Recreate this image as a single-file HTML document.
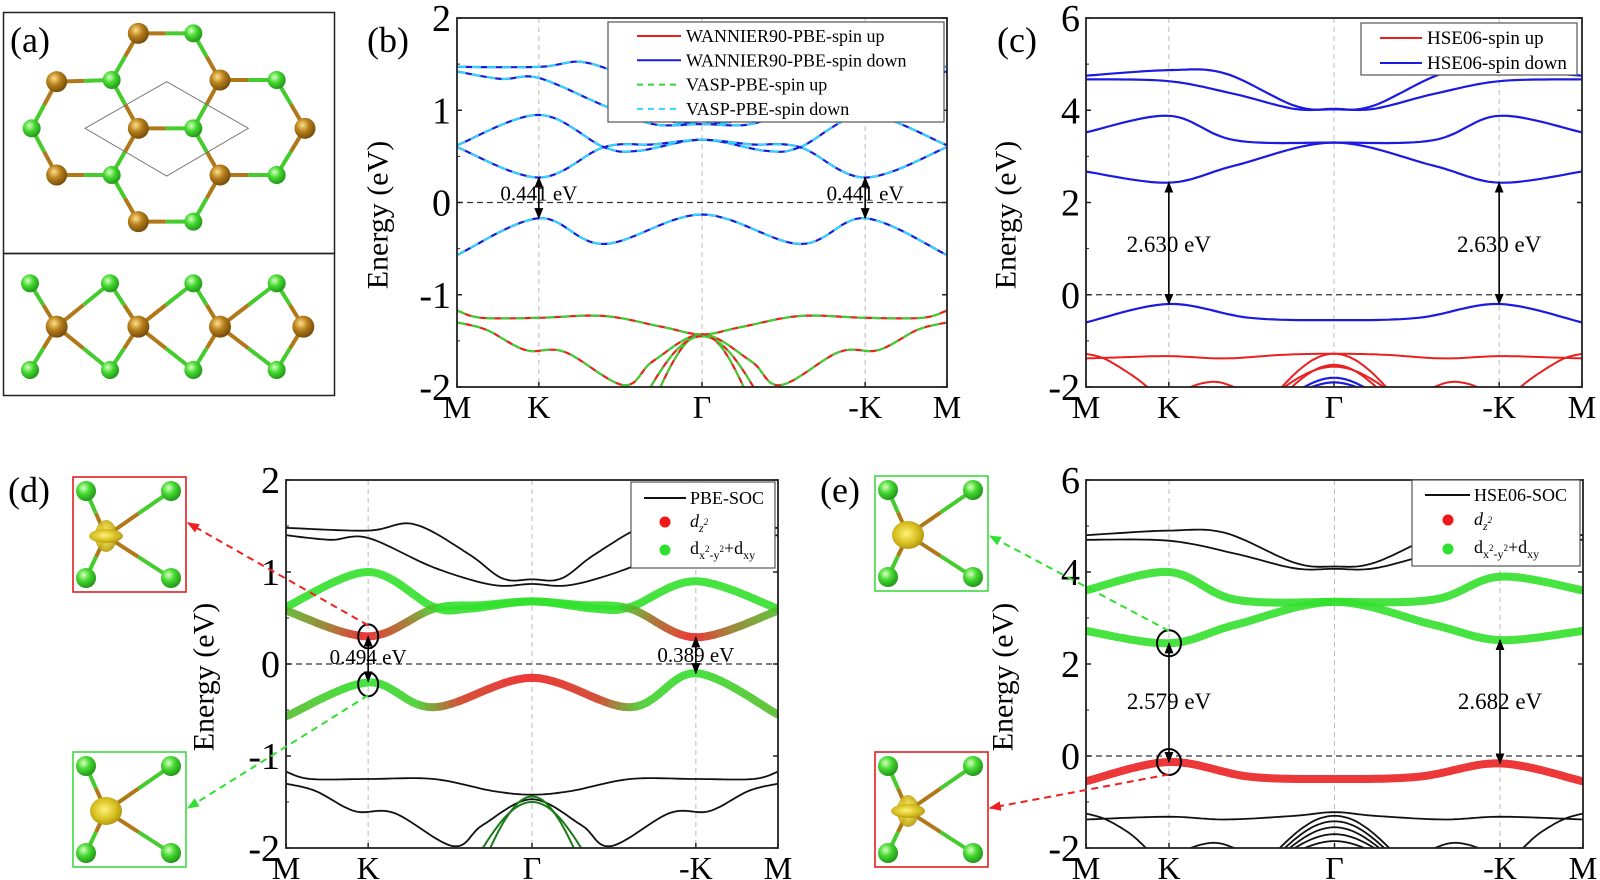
<!DOCTYPE html>
<html><head><meta charset="utf-8"><style>
html,body{margin:0;padding:0;background:#fff;}
svg{display:block;font-family:"Liberation Serif",serif;}
</style></head><body>
<svg id="s" width="1600" height="880" viewBox="0 0 1600 880" xmlns="http://www.w3.org/2000/svg">
<defs>
<radialGradient id="gB" cx="0.38" cy="0.35" r="0.7"><stop offset="0" stop-color="#ffe08a"/><stop offset="0.45" stop-color="#b8801c"/><stop offset="1" stop-color="#6e4608"/></radialGradient>
<radialGradient id="gG" cx="0.38" cy="0.35" r="0.7"><stop offset="0" stop-color="#d8ffc0"/><stop offset="0.45" stop-color="#44d830"/><stop offset="1" stop-color="#1f8f18"/></radialGradient>
<radialGradient id="gY" cx="0.45" cy="0.45" r="0.6"><stop offset="0" stop-color="#fff27a"/><stop offset="0.6" stop-color="#d8c020"/><stop offset="1" stop-color="#a89010"/></radialGradient>
<marker id="ar" viewBox="0 0 10 10" refX="9" refY="5" markerWidth="7" markerHeight="7" orient="auto-start-reverse"><path d="M0,1 L10,5 L0,9 z" fill="#000"/></marker>
<marker id="arR" viewBox="0 0 10 10" refX="9" refY="5" markerWidth="6" markerHeight="6" orient="auto"><path d="M0,1 L10,5 L0,9 z" fill="#f02020"/></marker>
<marker id="arG" viewBox="0 0 10 10" refX="9" refY="5" markerWidth="6" markerHeight="6" orient="auto"><path d="M0,1 L10,5 L0,9 z" fill="#30e030"/></marker>
</defs>
<g id="root"></g>
</svg>
<script>
var out='';
function P(id,x0,x1,y0,y1,emin,emax){return {id:id,x0:x0,x1:x1,y0:y0,y1:y1,emin:emin,emax:emax,X:function(k){return x0+k*(x1-x0);},Y:function(e){return y1-(e-emin)/(emax-emin)*(y1-y0);}};}
function cr(pts,n){n=n||14;var r=[];
 for(var i=0;i<pts.length-1;i++){var p0=pts[Math.max(i-1,0)],p1=pts[i],p2=pts[i+1],p3=pts[Math.min(i+2,pts.length-1)];
  for(var j=0;j<n;j++){var t=j/n,t2=t*t,t3=t2*t;var q=[];
   for(var c=0;c<2;c++){q.push(0.5*((2*p1[c])+(-p0[c]+p2[c])*t+(2*p0[c]-5*p1[c]+4*p2[c]-p3[c])*t2+(-p0[c]+3*p1[c]-3*p2[c]+p3[c])*t3));}
   r.push(q);}}
 r.push(pts[pts.length-1]);return r;}
function full(half,right){var L=half.slice();var R=right?right:half.filter(function(p){return p[0]<0.5;}).map(function(p){return [1-p[0],p[1]];}).reverse();return cr(L.concat(R));}
function dstr(p,pts){return pts.map(function(q,i){return (i?'L':'M')+p.X(q[0]).toFixed(1)+','+p.Y(q[1]).toFixed(1);}).join('');}
function line(p,pts,st){out+='<path d="'+dstr(p,pts)+'" fill="none" '+st+' clip-path="url(#c'+p.id+')"/>';}
function arc(peak,w){var r=[];for(var i=0;i<=60;i++){var k=0.5-w*1.15+i*(w*2.3/60);var x=(k-0.5)/w;r.push([k,peak-(peak+2)*x*x*(1-0.15*x*x+0.15)]);}return r;}
function interp(list,k){if(k<=list[0][0])return list[0][1];for(var i=0;i<list.length-1;i++){if(k<=list[i+1][0]){var f=(k-list[i][0])/(list[i+1][0]-list[i][0]);return list[i][1]+f*(list[i+1][1]-list[i][1]);}}return list[list.length-1][1];}
function mirrorT(h){var R=h.filter(function(p){return p[0]<0.5;}).map(function(p){return [1-p[0],p[1]];}).reverse();return h.concat(R);}
function fat(p,pts,tl){var g='<g clip-path="url(#c'+p.id+')" stroke-linecap="round" stroke-width="8" opacity="0.9">';
 for(var i=0;i<pts.length-1;i++){var k=(pts[i][0]+pts[i+1][0])/2;var t=interp(tl,k);
  var r=Math.round(50+t*(235-50)),gg=Math.round(225+t*(35-225)),b=Math.round(45+t*(35-45));
  g+='<line x1="'+p.X(pts[i][0]).toFixed(1)+'" y1="'+p.Y(pts[i][1]).toFixed(1)+'" x2="'+p.X(pts[i+1][0]).toFixed(1)+'" y2="'+p.Y(pts[i+1][1]).toFixed(1)+'" stroke="rgb('+r+','+gg+','+b+')"/>';}
 out+=g+'</g>';}
var KK=0.167;
function axes(p){
 out+='<clipPath id="c'+p.id+'"><rect x="'+p.x0+'" y="'+p.y0+'" width="'+(p.x1-p.x0)+'" height="'+(p.y1-p.y0)+'"/></clipPath>';
 [KK,0.5,1-KK].forEach(function(k){var x=p.X(k);out+='<line x1="'+x+'" y1="'+p.y0+'" x2="'+x+'" y2="'+p.y1+'" stroke="#bbb" stroke-width="1" stroke-dasharray="5,4"/>';});
 out+='<line x1="'+p.x0+'" y1="'+p.Y(0)+'" x2="'+p.x1+'" y2="'+p.Y(0)+'" stroke="#333" stroke-width="1.2" stroke-dasharray="6,4"/>';
}
function frame(p,ticks,minor,lab){
 out+='<rect x="'+p.x0+'" y="'+p.y0+'" width="'+(p.x1-p.x0)+'" height="'+(p.y1-p.y0)+'" fill="none" stroke="#222" stroke-width="1.8"/>';
 ticks.forEach(function(e){var y=p.Y(e);out+='<line x1="'+p.x0+'" y1="'+y+'" x2="'+(p.x0+5)+'" y2="'+y+'" stroke="#222" stroke-width="1.5"/><line x1="'+p.x1+'" y1="'+y+'" x2="'+(p.x1-5)+'" y2="'+y+'" stroke="#222" stroke-width="1.5"/>';
  out+='<text x="'+(p.x0-6)+'" y="'+(y+13)+'" font-size="38" text-anchor="end">'+e+'</text>';});
 minor.forEach(function(e){var y=p.Y(e);out+='<line x1="'+p.x0+'" y1="'+y+'" x2="'+(p.x0+3)+'" y2="'+y+'" stroke="#222" stroke-width="1"/>';});
 var names=['M','K','Γ','-K','M'],ks=[0,KK,0.5,1-KK,1];
 ks.forEach(function(k,i){var x=p.X(k);out+='<line x1="'+x+'" y1="'+p.y1+'" x2="'+x+'" y2="'+(p.y1-5)+'" stroke="#222" stroke-width="1.5"/>';
  out+='<text x="'+x+'" y="'+(p.y1+31)+'" font-size="32" text-anchor="middle">'+names[i]+'</text>';});
 out+='<text transform="translate('+lab[0]+','+lab[1]+') rotate(-90)" font-size="30" text-anchor="middle" dominant-baseline="central">Energy (eV)</text>';
}
function gap(p,k,e1,e2,txt,te,fs){var x=p.X(k);out+='<line x1="'+x+'" y1="'+p.Y(e1)+'" x2="'+x+'" y2="'+p.Y(e2)+'" stroke="#000" stroke-width="1.6" marker-start="url(#ar)" marker-end="url(#ar)"/>';
 out+='<text x="'+x+'" y="'+(p.Y(te)+fs*0.35)+'" font-size="'+fs+'" text-anchor="middle">'+txt+'</text>';}

/* ---------- panel b ---------- */
var B=P('b',457,947,18,387,-2,2);axes(B);
var bup=[
 full([[0,1.47],[KK,1.47],[0.26,1.52],[0.36,1.3],[0.43,0.9],[0.5,0.88]]),
 full([[0,1.42],[0.09,1.34],[KK,1.35],[0.3,1.05],[0.4,0.85],[0.5,0.85]]),
 full([[0,0.62],[KK,0.95],[0.3,0.6],[0.37,0.56],[0.5,0.68]]),
 full([[0,0.6],[KK,0.27],[0.3,0.6],[0.4,0.63],[0.5,0.68]]),
 full([[0,-0.57],[KK,-0.17],[0.3,-0.45],[0.5,-0.13]])];
var bdn=[
 full([[0,-1.17],[0.05,-1.25],[KK,-1.25],[0.3,-1.23],[0.42,-1.35],[0.5,-1.43]]),
 full([[0,-1.3],[0.06,-1.38],[0.14,-1.6],[0.22,-1.62],[0.34,-1.98],[0.4,-1.72],[0.5,-1.43]]),
 arc(-1.43,0.085),arc(-1.45,0.105)];
bup.forEach(function(b){line(B,b,'stroke="#1a1ad8" stroke-width="2.2"');line(B,b,'stroke="#30d8ff" stroke-width="2" stroke-dasharray="9,6"');});
bdn.forEach(function(b){line(B,b,'stroke="#e82020" stroke-width="2.2"');line(B,b,'stroke="#30d830" stroke-width="2" stroke-dasharray="9,6"');});
gap(B,KK,0.27,-0.17,'0.441 eV',0.1,21);gap(B,1-KK,0.27,-0.17,'0.441 eV',0.1,21);
frame(B,[-2,-1,0,1,2],[-1.5,-0.5,0.5,1.5],[378,215]);
out+='<rect x="608" y="22" width="336" height="100" fill="#fff" stroke="#555" stroke-width="1.2"/>';
[['#e82020','','WANNIER90-PBE-spin up'],['#1a1ad8','','WANNIER90-PBE-spin down'],['#30d830','6,5','VASP-PBE-spin up'],['#30d8ff','6,5','VASP-PBE-spin down']].forEach(function(l,i){var y=36+i*24.3;
 out+='<line x1="637" y1="'+y+'" x2="681" y2="'+y+'" stroke="'+l[0]+'" stroke-width="2" stroke-dasharray="'+l[1]+'"/><text x="686" y="'+(y+6)+'" font-size="18">'+l[2]+'</text>';});

/* ---------- panel c ---------- */
var C=P('c',1086,1582,18,387,-2,6);axes(C);
[full([[0,4.75],[KK,4.87],[0.28,4.8],[0.42,4.1],[0.5,4.02]]),
 full([[0,4.67],[KK,4.63],[0.3,4.35],[0.42,4.03],[0.5,4.03]]),
 full([[0,3.52],[KK,3.88],[0.3,3.35],[0.5,3.3]]),
 full([[0,2.67],[KK,2.43],[0.3,2.8],[0.5,3.3]]),
 full([[0,-0.6],[KK,-0.2],[0.33,-0.5],[0.5,-0.55]]),
 arc(-1.8,0.06),arc(-1.9,0.045)].forEach(function(b){line(C,b,'stroke="#1a1ae0" stroke-width="2.2"');});
[full([[0,-1.38],[0.06,-1.36],[KK,-1.33],[0.28,-1.38],[0.4,-1.3],[0.5,-1.28]]),
 cr([[0,-1.28],[0.04,-1.4],[0.1,-1.8],[0.14,-2.15]]),cr([[1,-1.28],[0.96,-1.4],[0.9,-1.8],[0.86,-2.15]]),
 cr([[0.19,-2.1],[0.23,-1.93],[0.27,-1.9],[0.32,-2.1]]),cr([[0.81,-2.1],[0.77,-1.93],[0.73,-1.9],[0.68,-2.1]]),
 arc(-1.28,0.105),arc(-1.52,0.085),arc(-1.56,0.1)].forEach(function(b){line(C,b,'stroke="#e82020" stroke-width="2"');});
gap(C,KK,2.43,-0.2,'2.630 eV',1.1,23);gap(C,1-KK,2.43,-0.2,'2.630 eV',1.1,23);
frame(C,[-2,0,2,4,6],[-1,1,3,5],[1006,215]);
out+='<rect x="1361" y="23" width="216" height="52" fill="#fff" stroke="#555" stroke-width="1.2"/>';
out+='<line x1="1380" y1="38" x2="1422" y2="38" stroke="#e82020" stroke-width="2"/><text x="1427" y="44" font-size="19">HSE06-spin up</text>';
out+='<line x1="1380" y1="63" x2="1422" y2="63" stroke="#1a1ae0" stroke-width="2"/><text x="1427" y="69" font-size="19">HSE06-spin down</text>';

/* ---------- panel d ---------- */
var D=P('d',286,778,480,848,-2,2);axes(D);
[full([[0,1.48],[KK,1.45],[0.26,1.52],[0.37,1.2],[0.44,0.93],[0.5,0.92]]),
 full([[0,1.4],[0.09,1.35],[KK,1.37],[0.3,1.05],[0.42,0.86],[0.5,0.87]]),
 full([[0,-1.17],[0.05,-1.25],[KK,-1.25],[0.3,-1.25],[0.42,-1.38],[0.5,-1.42]]),
 full([[0,-1.3],[0.06,-1.38],[0.14,-1.6],[0.22,-1.62],[0.34,-1.98],[0.4,-1.75],[0.5,-1.47]])].forEach(function(b){line(D,b,'stroke="#111" stroke-width="1.8"');});
[arc(-1.44,0.085),arc(-1.5,0.1)].forEach(function(b){line(D,b,'stroke="#1a7a1a" stroke-width="2"');});
fat(D,full([[0,0.62],[KK,1.0],[0.3,0.62],[0.37,0.6],[0.5,0.68]],[[0.63,0.6],[0.7,0.62],[1-KK,0.9],[1,0.6]]),[[0,0],[1,0]]);
fat(D,full([[0,0.58],[KK,0.3],[0.3,0.6],[0.4,0.64],[0.5,0.68]],[[0.6,0.64],[0.7,0.6],[1-KK,0.29],[1,0.58]]),mirrorT([[0,0.2],[0.08,0.5],[KK,1],[0.25,0.6],[0.32,0],[0.5,0]]));
fat(D,full([[0,-0.57],[KK,-0.2],[0.3,-0.47],[0.5,-0.15]],[[0.7,-0.47],[1-KK,-0.1],[1,-0.55]]),mirrorT([[0,0.2],[KK,0],[0.27,0.1],[0.36,0.85],[0.5,1]]));
gap(D,KK,0.3,-0.19,'0.494 eV',0.08,21);gap(D,1-KK,0.29,-0.1,'0.389 eV',0.1,21);
out+='<ellipse cx="'+D.X(KK)+'" cy="'+D.Y(0.3)+'" rx="10" ry="12" fill="none" stroke="#000" stroke-width="2"/>';
out+='<ellipse cx="'+D.X(KK)+'" cy="'+D.Y(-0.22)+'" rx="10" ry="12" fill="none" stroke="#000" stroke-width="2"/>';
frame(D,[-2,-1,0,1,2],[-1.5,-0.5,0.5,1.5],[204,677]);
out+='<rect x="631" y="482" width="144" height="86" fill="#fff" stroke="#555" stroke-width="1.2"/>';
out+='<line x1="644" y1="498" x2="686" y2="498" stroke="#111" stroke-width="2"/><text x="690" y="504" font-size="18">PBE-SOC</text>';
out+='<circle cx="665" cy="522" r="5.5" fill="#f01818"/><text x="690" y="527" font-size="18" font-style="italic">d<tspan font-size="12" dy="5">z</tspan><tspan font-size="9" dy="-7">2</tspan></text>';
out+='<circle cx="665" cy="550" r="5.5" fill="#30e030"/><text x="690" y="554" font-size="18">d<tspan font-size="12" dy="5">x</tspan><tspan font-size="9" dy="-7">2</tspan><tspan font-size="12" dy="7">-y</tspan><tspan font-size="9" dy="-7">2</tspan><tspan dy="2">+d</tspan><tspan font-size="12" dy="5">xy</tspan></text>';

/* ---------- panel e ---------- */
var E=P('e',1086,1583,480,848,-2,6);axes(E);
[full([[0,4.8],[KK,4.9],[0.28,4.85],[0.42,4.2],[0.5,4.12]]),
 full([[0,4.7],[KK,4.68],[0.3,4.4],[0.42,4.08],[0.5,4.07]]),
 full([[0,-1.38],[KK,-1.32],[0.28,-1.38],[0.42,-1.3],[0.5,-1.22]]),
 cr([[0,-1.25],[0.04,-1.38],[0.09,-1.7],[0.13,-2.1]]),cr([[1,-1.25],[0.96,-1.38],[0.91,-1.7],[0.87,-2.1]]),
 cr([[0.19,-2.1],[0.23,-1.93],[0.27,-1.9],[0.32,-2.1]]),cr([[0.81,-2.1],[0.77,-1.93],[0.73,-1.9],[0.68,-2.1]]),
 arc(-1.3,0.11),arc(-1.42,0.1),arc(-1.55,0.09),arc(-1.7,0.08),arc(-1.85,0.06)].forEach(function(b){line(E,b,'stroke="#111" stroke-width="1.8"');});
fat(E,full([[0,3.6],[KK,4.0],[0.3,3.4],[0.5,3.35]],[[0.7,3.4],[1-KK,3.9],[1,3.6]]),[[0,0],[1,0]]);
fat(E,full([[0,2.72],[KK,2.45],[0.3,2.85],[0.5,3.35]],[[0.7,2.85],[1-KK,2.52],[1,2.72]]),[[0,0],[1,0]]);
fat(E,full([[0,-0.55],[KK,-0.13],[0.33,-0.45],[0.5,-0.5]],[[0.67,-0.45],[1-KK,-0.16],[1,-0.55]]),[[0,1],[1,1]]);
gap(E,KK,2.45,-0.13,'2.579 eV',1.2,23);gap(E,1-KK,2.52,-0.16,'2.682 eV',1.2,23);
out+='<ellipse cx="'+E.X(KK)+'" cy="'+E.Y(2.45)+'" rx="12" ry="13" fill="none" stroke="#000" stroke-width="2"/>';
out+='<ellipse cx="'+E.X(KK)+'" cy="'+E.Y(-0.13)+'" rx="12" ry="13" fill="none" stroke="#000" stroke-width="2"/>';
frame(E,[-2,0,2,4,6],[-1,1,3,5],[1003,677]);
out+='<rect x="1412" y="480" width="168" height="86" fill="#fff" stroke="#555" stroke-width="1.2"/>';
out+='<line x1="1425" y1="495" x2="1470" y2="495" stroke="#111" stroke-width="2"/><text x="1474" y="501" font-size="18">HSE06-SOC</text>';
out+='<circle cx="1448" cy="520" r="5.5" fill="#f01818"/><text x="1474" y="525" font-size="18" font-style="italic">d<tspan font-size="12" dy="5">z</tspan><tspan font-size="9" dy="-7">2</tspan></text>';
out+='<circle cx="1448" cy="549" r="5.5" fill="#30e030"/><text x="1474" y="553" font-size="18">d<tspan font-size="12" dy="5">x</tspan><tspan font-size="9" dy="-7">2</tspan><tspan font-size="12" dy="7">-y</tspan><tspan font-size="9" dy="-7">2</tspan><tspan dy="2">+d</tspan><tspan font-size="12" dy="5">xy</tspan></text>';

/* ---------- structures ---------- */
function bond(a,b,w){var mx=(a[0]+b[0])/2,my=(a[1]+b[1])/2;out+='<line x1="'+a[0]+'" y1="'+a[1]+'" x2="'+mx+'" y2="'+my+'" stroke="#b07818" stroke-width="'+w+'"/><line x1="'+mx+'" y1="'+my+'" x2="'+b[0]+'" y2="'+b[1]+'" stroke="#44cc2c" stroke-width="'+w+'"/>';}
function ball(c,r,g){out+='<circle cx="'+c[0]+'" cy="'+c[1]+'" r="'+r+'" fill="url(#'+g+')"/>';}
out+='<rect x="3.5" y="12.5" width="331" height="241" fill="none" stroke="#222" stroke-width="1.5"/><rect x="3.5" y="253.5" width="331" height="142" fill="none" stroke="#222" stroke-width="1.5"/>';
function s3(a){return [a[0]/3,a[1]/3];}
var Br=[[415,100],[170,245],[660,240],[415,385],[915,385],[170,525],[660,525],[415,665]].map(s3);
var Gr=[[580,100],[335,240],[830,240],[95,385],[580,385],[335,525],[830,525],[580,665]].map(s3);
var bl=[[0,0],[0,1],[1,1],[1,3],[2,2],[2,0],[2,4],[3,4],[3,1],[3,5],[4,2],[4,6],[5,5],[5,3],[6,6],[6,4],[6,7],[7,7],[7,5]];
bl.forEach(function(p){bond(Br[p[0]],Gr[p[1]],4);});
out+='<polygon points="85,128.3 166.7,81.7 248.3,128.3 166.7,176" fill="none" stroke="#777" stroke-width="1"/>';
Br.forEach(function(c){ball(c,10.5,'gB');});Gr.forEach(function(c){ball(c,9,'gG');});
var gt=[[90,850],[330,850],[580,850],[830,850]].map(s3),gb=[[90,1110],[330,1110],[580,1110],[830,1110]].map(s3),bm=[[170,980],[415,980],[660,980],[910,980]].map(s3);
[[0,0],[0,1],[1,1],[1,2],[2,2],[2,3],[3,3]].forEach(function(p){bond(bm[p[0]],gt[p[1]],4);bond(bm[p[0]],gb[p[1]],4);});
bm.forEach(function(c){ball(c,11,'gB');});gt.concat(gb).forEach(function(c){ball(c,9,'gG');});
out+='<text x="10" y="52" font-size="36">(a)</text><text x="367" y="52" font-size="36">(b)</text><text x="997" y="52" font-size="36">(c)</text><text x="8" y="502" font-size="36">(d)</text><text x="820" y="502" font-size="36">(e)</text>';
function inset(x,y,col,dz){out+='<rect x="'+x+'" y="'+y+'" width="113" height="115" fill="#fff" stroke="'+col+'" stroke-width="1.6"/>';
 var c=[x+33,y+59],g=[[x+13,y+14],[x+98,y+14],[x+13,y+101],[x+98,y+101]];
 g.forEach(function(a){bond(c,a,4);});
 if(dz){out+='<ellipse cx="'+c[0]+'" cy="'+c[1]+'" rx="11" ry="16" fill="url(#gY)" opacity="0.9"/><ellipse cx="'+c[0]+'" cy="'+c[1]+'" rx="17" ry="7" fill="url(#gY)" opacity="0.95"/>';}
 else{out+='<ellipse cx="'+c[0]+'" cy="'+c[1]+'" rx="16" ry="14" fill="url(#gY)"/>';}
 g.forEach(function(a){ball(a,10,'gG');});}
inset(73,477,'#e02020',true);inset(73,752,'#40d840',false);inset(875,476,'#40d840',false);inset(875,752,'#e02020',true);
out+='<line x1="'+D.X(KK)+'" y1="'+D.Y(0.42)+'" x2="188" y2="523" stroke="#f02020" stroke-width="2" stroke-dasharray="7,5" marker-end="url(#arR)"/>';
out+='<line x1="'+D.X(KK)+'" y1="'+D.Y(-0.34)+'" x2="188" y2="808" stroke="#30e030" stroke-width="2" stroke-dasharray="7,5" marker-end="url(#arG)"/>';
out+='<line x1="'+E.X(KK)+'" y1="'+E.Y(2.72)+'" x2="990" y2="536" stroke="#30e030" stroke-width="2" stroke-dasharray="7,5" marker-end="url(#arG)"/>';
out+='<line x1="'+E.X(KK)+'" y1="'+E.Y(-0.4)+'" x2="990" y2="808" stroke="#f02020" stroke-width="2" stroke-dasharray="7,5" marker-end="url(#arR)"/>';
document.getElementById('root').innerHTML=out;
</script>
</body></html>
